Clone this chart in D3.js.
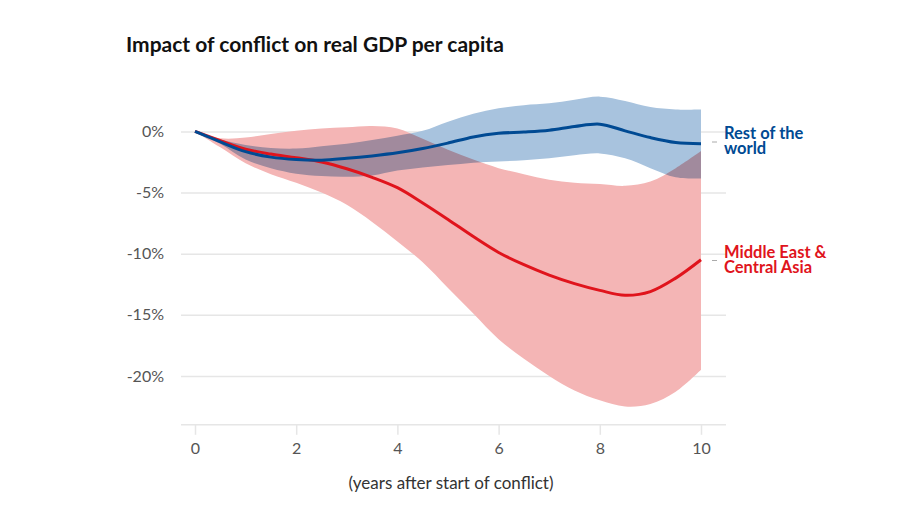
<!DOCTYPE html>
<html>
<head>
<meta charset="utf-8">
<title>Impact of conflict on real GDP per capita</title>
<style>
  body { margin: 0; background: #fff; }
  #chart { width: 900px; height: 510px; }
  text { font-family: Lato, "Open Sans", sans-serif; }
  .grid line { stroke: #e6e6e6; stroke-width: 1.5; }
  .tick text { fill: #555; font-size: 16px; }
</style>
</head>
<body>
<div id="chart"></div>
<script src="https://cdn.jsdelivr.net/npm/d3@7"></script>
<script>
// years after start of conflict
var years = [0, 0.5, 1, 1.5, 2, 2.5, 3, 3.5, 4, 4.5, 5, 5.5, 6, 6.5, 7, 7.5, 8, 8.5, 9, 9.5, 10];

// Rest of the world (%)
var restMid = [0, -0.85, -1.65, -2.1, -2.3, -2.35, -2.2, -2.0, -1.75, -1.4, -0.95, -0.45, -0.15, -0.05, 0.1, 0.4, 0.6, 0.05, -0.5, -0.9, -1.0];
var restLo  = [0, -1.0, -2.3, -3.0, -3.45, -3.65, -3.7, -3.6, -3.2, -2.95, -2.75, -2.55, -2.45, -2.35, -2.2, -1.95, -1.8, -2.2, -3.0, -3.75, -3.85];
var restHi  = [0, -0.65, -1.1, -1.35, -1.4, -1.2, -1.0, -0.7, -0.35, 0.05, 0.8, 1.45, 1.9, 2.15, 2.3, 2.6, 2.85, 2.5, 2.0, 1.8, 1.8];

// Middle East & Central Asia (%)
var mecaMid = [0, -0.75, -1.45, -1.85, -2.15, -2.5, -3.05, -3.75, -4.6, -5.85, -7.2, -8.6, -9.9, -10.9, -11.75, -12.45, -13.0, -13.4, -13.1, -12.0, -10.5];
var mecaLo  = [0, -1.3, -2.6, -3.5, -4.2, -5.0, -6.0, -7.4, -9.0, -10.7, -12.8, -14.9, -17.0, -18.6, -20.0, -21.2, -22.0, -22.5, -22.3, -21.3, -19.5];
var mecaHi  = [0, -0.55, -0.5, -0.2, 0.05, 0.25, 0.35, 0.45, 0.25, -0.6, -1.5, -2.3, -3.0, -3.5, -3.95, -4.2, -4.3, -4.45, -4.1, -3.0, -1.6];

var yTicks = [0, -5, -10, -15, -20];
var xTicks = [0, 2, 4, 6, 8, 10];

var svg = d3.select('#chart').append('svg')
  .attr('width', 900).attr('height', 510);

var x = d3.scaleLinear().domain([0, 10]).range([195, 701]);
var y = d3.scaleLinear().domain([-24, 3]).range([424.8, 94.8]);

svg.append('text')
  .attr('x', 126).attr('y', 52)
  .style('font-size', '21px').style('font-weight', 'bold').style('fill', '#111')
  .text('Impact of conflict on real GDP per capita');

// horizontal grid with labels
var gy = svg.append('g').attr('class', 'grid')
  .attr('transform', 'translate(181,0)')
  .call(d3.axisLeft(y).tickValues(yTicks).tickSize(-545).tickPadding(17)
    .tickFormat(function(d){ return d + '%'; }));
gy.select('.domain').remove();

// bottom axis
var gx = svg.append('g').attr('class', 'grid')
  .attr('transform', 'translate(0,' + y(-24) + ')')
  .call(d3.axisBottom(x).tickValues(xTicks).tickSize(10).tickPadding(8));
gx.select('.domain').remove();
gx.append('line').attr('x1', 181).attr('x2', 726).attr('y1', 0).attr('y2', 0)
  .attr('stroke', '#e6e6e6').attr('stroke-width', 2.5);

svg.append('text')
  .attr('x', 451).attr('y', 489).attr('text-anchor', 'middle')
  .style('font-size', '17px').style('fill', '#333')
  .text('(years after start of conflict)');

function rows(lo, hi, mid){
  return years.map(function(t, i){ return { t: t, lo: lo[i], hi: hi[i], mid: mid[i] }; });
}

var curve = d3.curveCatmullRom.alpha(0.5);
var area = d3.area().curve(curve)
  .x(function(d){ return x(d.t); })
  .y0(function(d){ return y(d.lo); })
  .y1(function(d){ return y(d.hi); });
var line = d3.line().curve(curve)
  .x(function(d){ return x(d.t); })
  .y(function(d){ return y(d.mid); });

var rest = rows(restLo, restHi, restMid);
var meca = rows(mecaLo, mecaHi, mecaMid);

var bands = svg.append('g').style('isolation', 'isolate');
bands.append('path').datum(rest).attr('d', area).attr('fill', '#a8c3de');
bands.append('path').datum(meca).attr('d', area).attr('fill', '#f4b5b5')
  .style('mix-blend-mode', 'multiply');

svg.append('path').datum(meca).attr('d', line)
  .attr('fill', 'none').attr('stroke', '#e0141c').attr('stroke-width', 3);
svg.append('path').datum(rest).attr('d', line)
  .attr('fill', 'none').attr('stroke', '#004a93').attr('stroke-width', 3);

// series labels
var labels = [
  { lines: ['Rest of the', 'world'], base: 138.5, tick: 142, color: '#004a93' },
  { lines: ['Middle East &', 'Central Asia'], base: 257.5, tick: 260.5, color: '#e0141c' }
];
labels.forEach(function(l){
  svg.append('line').attr('x1', 712).attr('x2', 717).attr('y1', l.tick).attr('y2', l.tick)
    .attr('stroke', '#aaa').attr('stroke-width', 1);
  l.lines.forEach(function(s, i){
    svg.append('text').attr('x', 724).attr('y', l.base + i * 15.5)
      .style('font-size', '16.5px').style('font-weight', 'bold').style('fill', l.color)
      .text(s);
  });
});
</script>
</body>
</html>
